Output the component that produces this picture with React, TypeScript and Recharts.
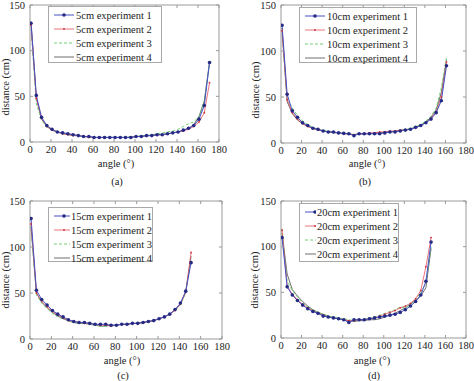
import { LineChart, Line, XAxis, YAxis, Legend, ReferenceLine } from 'recharts';

const FONT = '"Times New Roman", "Liberation Serif", "DejaVu Serif", serif';

// angles (degrees) measured in each panel
const anglesA = [1, 6, 11, 16, 21, 26, 31, 36, 41, 46, 51, 56, 61, 66, 71, 76, 81, 86, 91, 96, 101, 106, 111, 116, 121, 126, 131, 136, 141, 146, 151, 156, 161, 166, 171];
const anglesB = [1, 6, 11, 16, 21, 26, 31, 36, 41, 46, 51, 56, 61, 66, 71, 76, 81, 86, 91, 96, 101, 106, 111, 116, 121, 126, 131, 136, 141, 146, 151, 156, 161];
const anglesC = [1, 6, 11, 16, 21, 26, 31, 36, 41, 46, 51, 56, 61, 66, 71, 76, 81, 86, 91, 96, 101, 106, 111, 116, 121, 126, 131, 136, 141, 146, 151];
const anglesD = [1, 6, 11, 16, 21, 26, 31, 36, 41, 46, 51, 56, 61, 66, 71, 76, 81, 86, 91, 96, 101, 106, 111, 116, 121, 126, 131, 136, 141, 146];

// (a) 5cm
const a1 = [130, 51, 27, 18, 14, 11, 10, 9, 8, 7, 6, 6, 5, 5, 5, 5, 5, 5, 5, 5, 6, 6, 7, 7, 8, 8, 9, 10, 11, 13, 15, 18, 25, 40, 87];
const a2 = [128, 48, 26, 17, 13, 11, 9, 8, 7, 7, 6, 5, 5, 5, 5, 5, 5, 5, 5, 5, 6, 6, 7, 7, 8, 8, 9, 10, 11, 12, 14, 17, 22, 32, 65];
const a3 = [125, 42, 24, 16, 13, 11, 9, 8, 7, 7, 6, 6, 5, 5, 5, 5, 5, 5, 5, 6, 6, 7, 7, 8, 9, 10, 11, 12, 14, 17, 20, 22, 28, 45, 85];
const a4 = [132, 48, 25, 17, 13, 11, 10, 9, 8, 7, 6, 6, 5, 5, 5, 5, 5, 5, 5, 5, 6, 6, 7, 7, 8, 8, 9, 10, 11, 13, 15, 19, 28, 45, 88];

// (b) 10cm
const b1 = [128, 53, 35, 28, 22, 19, 16, 15, 13, 12, 12, 11, 10.5, 10, 8, 10, 10, 10, 10, 10, 11, 12, 12, 13, 14, 15, 17, 19, 22, 26, 33, 46, 84];
const b2 = [122, 47, 33, 26, 21, 18, 16, 14, 13, 12, 12, 11, 10, 10, 9, 10, 10, 11, 11, 12, 12, 13, 13, 14, 14, 15, 17, 19, 22, 27, 34, 50, 88];
const b3 = [118, 47, 38, 30, 24, 20, 17, 15, 14, 13, 12, 11, 11, 10, 9, 10, 10, 11, 11, 11, 12, 12, 13, 14, 15, 16, 18, 20, 24, 29, 38, 60, 93];
const b4 = [125, 45, 32, 25, 21, 18, 16, 14, 13, 12, 11, 11, 10, 10, 9, 10, 10, 10, 11, 11, 12, 12, 13, 14, 14, 15, 17, 19, 23, 28, 36, 55, 90];

// (c) 15cm
const c1 = [131, 53, 43, 37, 31, 27, 24, 21, 19, 18, 18, 17, 16, 16, 16, 15, 15, 16, 16, 17, 17, 18, 19, 20, 22, 24, 27, 32, 39, 52, 83];
const c2 = [125, 50, 41, 35, 30, 26, 23, 20, 19, 18, 17, 17, 16, 15, 15, 14, 15, 16, 16, 17, 17, 18, 19, 20, 22, 24, 27, 31, 38, 51, 94];
const c3 = [120, 48, 39, 33, 28, 24, 22, 20, 18, 17, 17, 16, 15, 14, 14, 15, 15, 16, 16, 17, 17, 18, 19, 20, 22, 24, 27, 31, 37, 50, 88];
const c4 = [122, 50, 40, 34, 29, 25, 22, 20, 18, 17, 17, 16, 15, 14, 14, 15, 15, 16, 16, 17, 17, 18, 19, 20, 22, 24, 27, 32, 38, 51, 90];

// (d) 20cm
const d1 = [110, 56, 47, 41, 36, 32, 29, 27, 24, 23, 22, 21, 20, 17, 20, 20, 20, 21, 22, 23, 24, 25, 26, 28, 31, 35, 40, 47, 62, 105];
const d2 = [118, 57, 48, 42, 37, 33, 30, 27, 25, 23, 22, 21, 20, 19, 19, 20, 20, 21, 22, 24, 26, 28, 30, 33, 35, 38, 43, 52, 78, 110];
const d3 = [120, 62, 52, 45, 39, 34, 31, 28, 26, 24, 23, 22, 21, 20, 19, 20, 21, 22, 23, 25, 27, 29, 31, 34, 33, 37, 42, 50, 60, 100];
const d4 = [115, 70, 53, 46, 40, 35, 31, 28, 26, 24, 22, 21, 20, 19, 18, 19, 19, 20, 20, 21, 23, 25, 27, 30, 33, 37, 41, 46, 55, 98];

const xTicks = [0, 20, 40, 60, 80, 100, 120, 140, 160, 180];
const yTicks = [0, 50, 100, 150];

const styles = [
  { key: 'e1', color: '#4650c8', width: 1, dash: undefined, dot: { r: 1.8, fill: '#252a85', stroke: 'none' } },
  { key: 'e2', color: '#e4505c', width: 0.8, dash: undefined, dot: { r: 0.9, fill: '#d03040', stroke: 'none' } },
  { key: 'e3', color: '#62cc62', width: 0.9, dash: '3 2', dot: false as const },
  { key: 'e4', color: '#6e6e6e', width: 1, dash: undefined, dot: false as const },
];

const W = 237;
const H = 190;
const AX_W = 26;
const AX_H = 20;

const panels = [
  { tag: '(a)', dist: '5cm', angles: anglesA, series: [a1, a2, a3, a4], ox: 0, oy: 0,
    plot: { l: 30, t: 5, r: 219, b: 142 }, legend: { x: 48, y: 6, w: 114, h: 57, row: 14 },
    xlab: { x: 116, y: 163 }, cap: { x: 117, y: 181 }, ylab: { x: 5, y: 87 } },
  { tag: '(b)', dist: '10cm', angles: anglesB, series: [b1, b2, b3, b4], ox: 237, oy: 0,
    plot: { l: 44, t: 5, r: 229, b: 143 }, legend: { x: 62, y: 7, w: 118, h: 56, row: 14 },
    xlab: { x: 130, y: 163 }, cap: { x: 128, y: 181 }, ylab: { x: 18, y: 90 } },
  { tag: '(c)', dist: '15cm', angles: anglesC, series: [c1, c2, c3, c4], ox: 0, oy: 190,
    plot: { l: 30, t: 11, r: 222, b: 149 }, legend: { x: 48, y: 17, w: 105, h: 55, row: 14 },
    xlab: { x: 122, y: 170 }, cap: { x: 123, y: 185 }, ylab: { x: 5, y: 90 } },
  { tag: '(d)', dist: '20cm', angles: anglesD, series: [d1, d2, d3, d4], ox: 237, oy: 190,
    plot: { l: 44, t: 11, r: 229, b: 148 }, legend: { x: 62, y: 13, w: 100, h: 59, row: 14 },
    xlab: { x: 135, y: 170 }, cap: { x: 137, y: 185 }, ylab: { x: 17, y: 90 } },
];

function XTick(props: any) {
  const { x, y, payload, top } = props;
  const base = y - 4;
  return (
    <g>
      <line x1={x} x2={x} y1={base} y2={base - 3} stroke="#9a9a9a" />
      <line x1={x} x2={x} y1={top} y2={top + 3} stroke="#9a9a9a" />
      <text x={x} y={y} dy="0.71em" textAnchor="middle" fontSize={10.5} fontFamily={FONT} fill="#222">
        {payload.value}
      </text>
    </g>
  );
}

function YTick(props: any) {
  const { x, y, payload, right } = props;
  const base = x + 5;
  return (
    <g>
      <line x1={base} x2={base + 3} y1={y} y2={y} stroke="#9a9a9a" />
      <line x1={right - 3} x2={right} y1={y} y2={y} stroke="#9a9a9a" />
      <text x={x} y={y} dy="0.355em" textAnchor="end" fontSize={10.5} fontFamily={FONT} fill="#222">
        {payload.value}
      </text>
    </g>
  );
}

function LegendBox({ payload, box }: any) {
  const items = [...(payload || [])].sort((p: any, q: any) => String(p.value).localeCompare(String(q.value)));
  return (
    <div style={{ width: box.w, height: box.h, background: '#fff', border: '1px solid #a8a8a8', boxSizing: 'border-box', paddingTop: 1 }}>
      {items.map((it: any) => {
        const st = styles.find((s) => s.key === it.dataKey) || styles[0];
        return (
          <div key={it.value} style={{ display: 'flex', alignItems: 'center', height: box.row, fontFamily: FONT, fontSize: 10.5, color: '#222', whiteSpace: 'nowrap' }}>
            <svg width={22} height={box.row} style={{ marginLeft: 4, marginRight: 1 }}>
              <line x1={1} x2={21} y1={box.row / 2} y2={box.row / 2} stroke={st.color} strokeWidth={st.width} strokeDasharray={st.dash} />
              {st.dot && <circle cx={11} cy={box.row / 2} r={st.dot.r} fill={st.dot.fill} />}
            </svg>
            <span>{it.value}</span>
          </div>
        );
      })}
    </div>
  );
}

function Panel({ p }: any) {
  const rows = p.angles.map((a: number, i: number) => ({
    angle: a,
    e1: p.series[0][i],
    e2: p.series[1][i],
    e3: p.series[2][i],
    e4: p.series[3][i],
  }));
  const margin = { left: p.plot.l - AX_W, top: p.plot.t, right: W - p.plot.r, bottom: H - p.plot.b - AX_H };
  const order = [3, 2, 1, 0];
  const text = { position: 'absolute' as const, fontFamily: FONT, fontSize: 10.5, color: '#222', whiteSpace: 'nowrap' as const };
  return (
    <div style={{ position: 'absolute', left: p.ox, top: p.oy, width: W, height: H }}>
      <LineChart width={W} height={H} data={rows} margin={margin} style={{ fontFamily: FONT }}>
        <XAxis dataKey="angle" type="number" domain={[0, 180]} ticks={xTicks} height={AX_H}
          axisLine={{ stroke: '#9a9a9a' }} tickLine={false} tickSize={0} tickMargin={4}
          tick={(tp: any) => <XTick {...tp} top={p.plot.t} />} interval={0} allowDataOverflow />
        <YAxis type="number" domain={[0, 150]} ticks={yTicks} width={AX_W}
          axisLine={{ stroke: '#9a9a9a' }} tickLine={false} tickSize={0} tickMargin={5}
          tick={(tp: any) => <YTick {...tp} right={p.plot.r} />} interval={0} />
        <ReferenceLine y={150} stroke="#9a9a9a" />
        <ReferenceLine x={180} stroke="#9a9a9a" />
        {order.map((k) => {
          const st = styles[k];
          return (
            <Line key={st.key} type="linear" dataKey={st.key} name={`${p.dist} experiment ${k + 1}`}
              stroke={st.color} strokeWidth={st.width} strokeDasharray={st.dash}
              dot={st.dot} activeDot={false} isAnimationActive={false} />
          );
        })}
        <Legend layout="vertical" align="center" verticalAlign="middle"
          wrapperStyle={{ position: 'absolute', left: p.legend.x, top: p.legend.y, width: p.legend.w, height: p.legend.h }}
          content={(lp: any) => <LegendBox payload={lp.payload} box={p.legend} />} />
      </LineChart>
      <div style={{ ...text, left: p.xlab.x, top: p.xlab.y, transform: 'translate(-50%, -50%)' }}>angle (°)</div>
      <div style={{ ...text, left: p.cap.x, top: p.cap.y, transform: 'translate(-50%, -50%)' }}>{p.tag}</div>
      <div style={{ ...text, left: p.ylab.x, top: p.ylab.y, transform: 'translate(-50%, -50%) rotate(-90deg)' }}>distance (cm)</div>
    </div>
  );
}

export default function App() {
  return (
    <div style={{ position: 'absolute', left: 0, top: 0, width: 474, height: 381, background: '#fff', overflow: 'hidden', fontFamily: FONT }}>
      {panels.map((p) => (
        <Panel key={p.tag} p={p} />
      ))}
    </div>
  );
}
